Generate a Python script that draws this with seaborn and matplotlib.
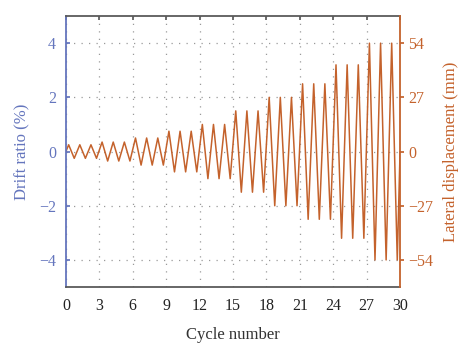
import matplotlib
matplotlib.use("Agg")
import matplotlib.pyplot as plt
import seaborn as sns
import pandas as pd

# Loading protocol: drift-ratio amplitude (%) of each level, 3 cycles per level
amplitudes = [0.25, 0.35, 0.5, 0.75, 1.0, 1.5, 2.0, 2.5, 3.2, 4.0]
cycles_per_level = 3
x_ticks = [0, 3, 6, 9, 12, 15, 18, 21, 24, 27, 30]
left_ticks = [-4, -2, 0, 2, 4]
right_ticks = [-54, -27, 0, 27, 54]

# build vertex list of the triangular history
cyc, drift = [0.0], [0.0]
c = 0
for a in amplitudes:
    for _ in range(cycles_per_level):
        cyc += [c + 0.25, c + 0.75]
        drift += [a, -a]
        c += 1
cyc.append(float(c))
drift.append(0.0)
df = pd.DataFrame({"cycle": cyc, "drift": drift})

sns.set_theme(style="white")
plt.rcParams["font.family"] = ["Liberation Serif", "DejaVu Serif"]

blue = "#6475bd"
orange = "#c4622c"
grey = "#5a5a5a"

fig = plt.figure(figsize=(4.74, 3.57), dpi=100)
ax = fig.add_axes([0.139, 0.196, 0.705, 0.759])

sns.lineplot(data=df, x="cycle", y="drift", ax=ax, color=orange, lw=1.1,
             estimator=None, sort=False)

ax.set_xlim(0, 30)
ax.set_ylim(-5, 5)
ax.set_xticks(x_ticks)
ax.set_yticks(left_ticks)
ax.set_yticklabels(["\u22124", "\u22122", "0", "2", "4"])
ax.grid(True, color="#9a9a9a", linestyle=(0, (1, 5)), linewidth=0.9)
ax.set_xlabel("Cycle number", fontsize=12, color="#333333", labelpad=9)
ax.set_ylabel("Drift ratio (%)", fontsize=12, color=blue, labelpad=6)

ax.tick_params(axis="x", direction="in", length=3, colors=grey, labelcolor="#222222",
               labelsize=11.5, top=True, pad=8)
ax.tick_params(axis="y", direction="in", length=3, colors=blue, labelcolor=blue,
               labelsize=11.5, pad=7)

for s in ["top", "bottom"]:
    ax.spines[s].set_color(grey)
    ax.spines[s].set_linewidth(1.3)
ax.spines["left"].set_color(blue)
ax.spines["left"].set_linewidth(1.3)
ax.spines["right"].set_visible(False)

ax2 = ax.twinx()
ax2.set_ylim(-67.5, 67.5)
ax2.set_yticks(right_ticks)
ax2.set_yticklabels(["\u221254", "\u221227", "0", "27", "54"])
ax2.tick_params(axis="y", direction="out", length=3, colors=orange, labelcolor=orange,
                labelsize=11.5, pad=3)
ax2.set_ylabel("Lateral displacement (mm)", fontsize=12, color=orange, labelpad=7)
for s in ["top", "bottom", "left"]:
    ax2.spines[s].set_visible(False)
ax2.spines["right"].set_color(orange)
ax2.spines["right"].set_linewidth(1.3)
ax2.grid(False)

fig.savefig("out.png", dpi=100)
